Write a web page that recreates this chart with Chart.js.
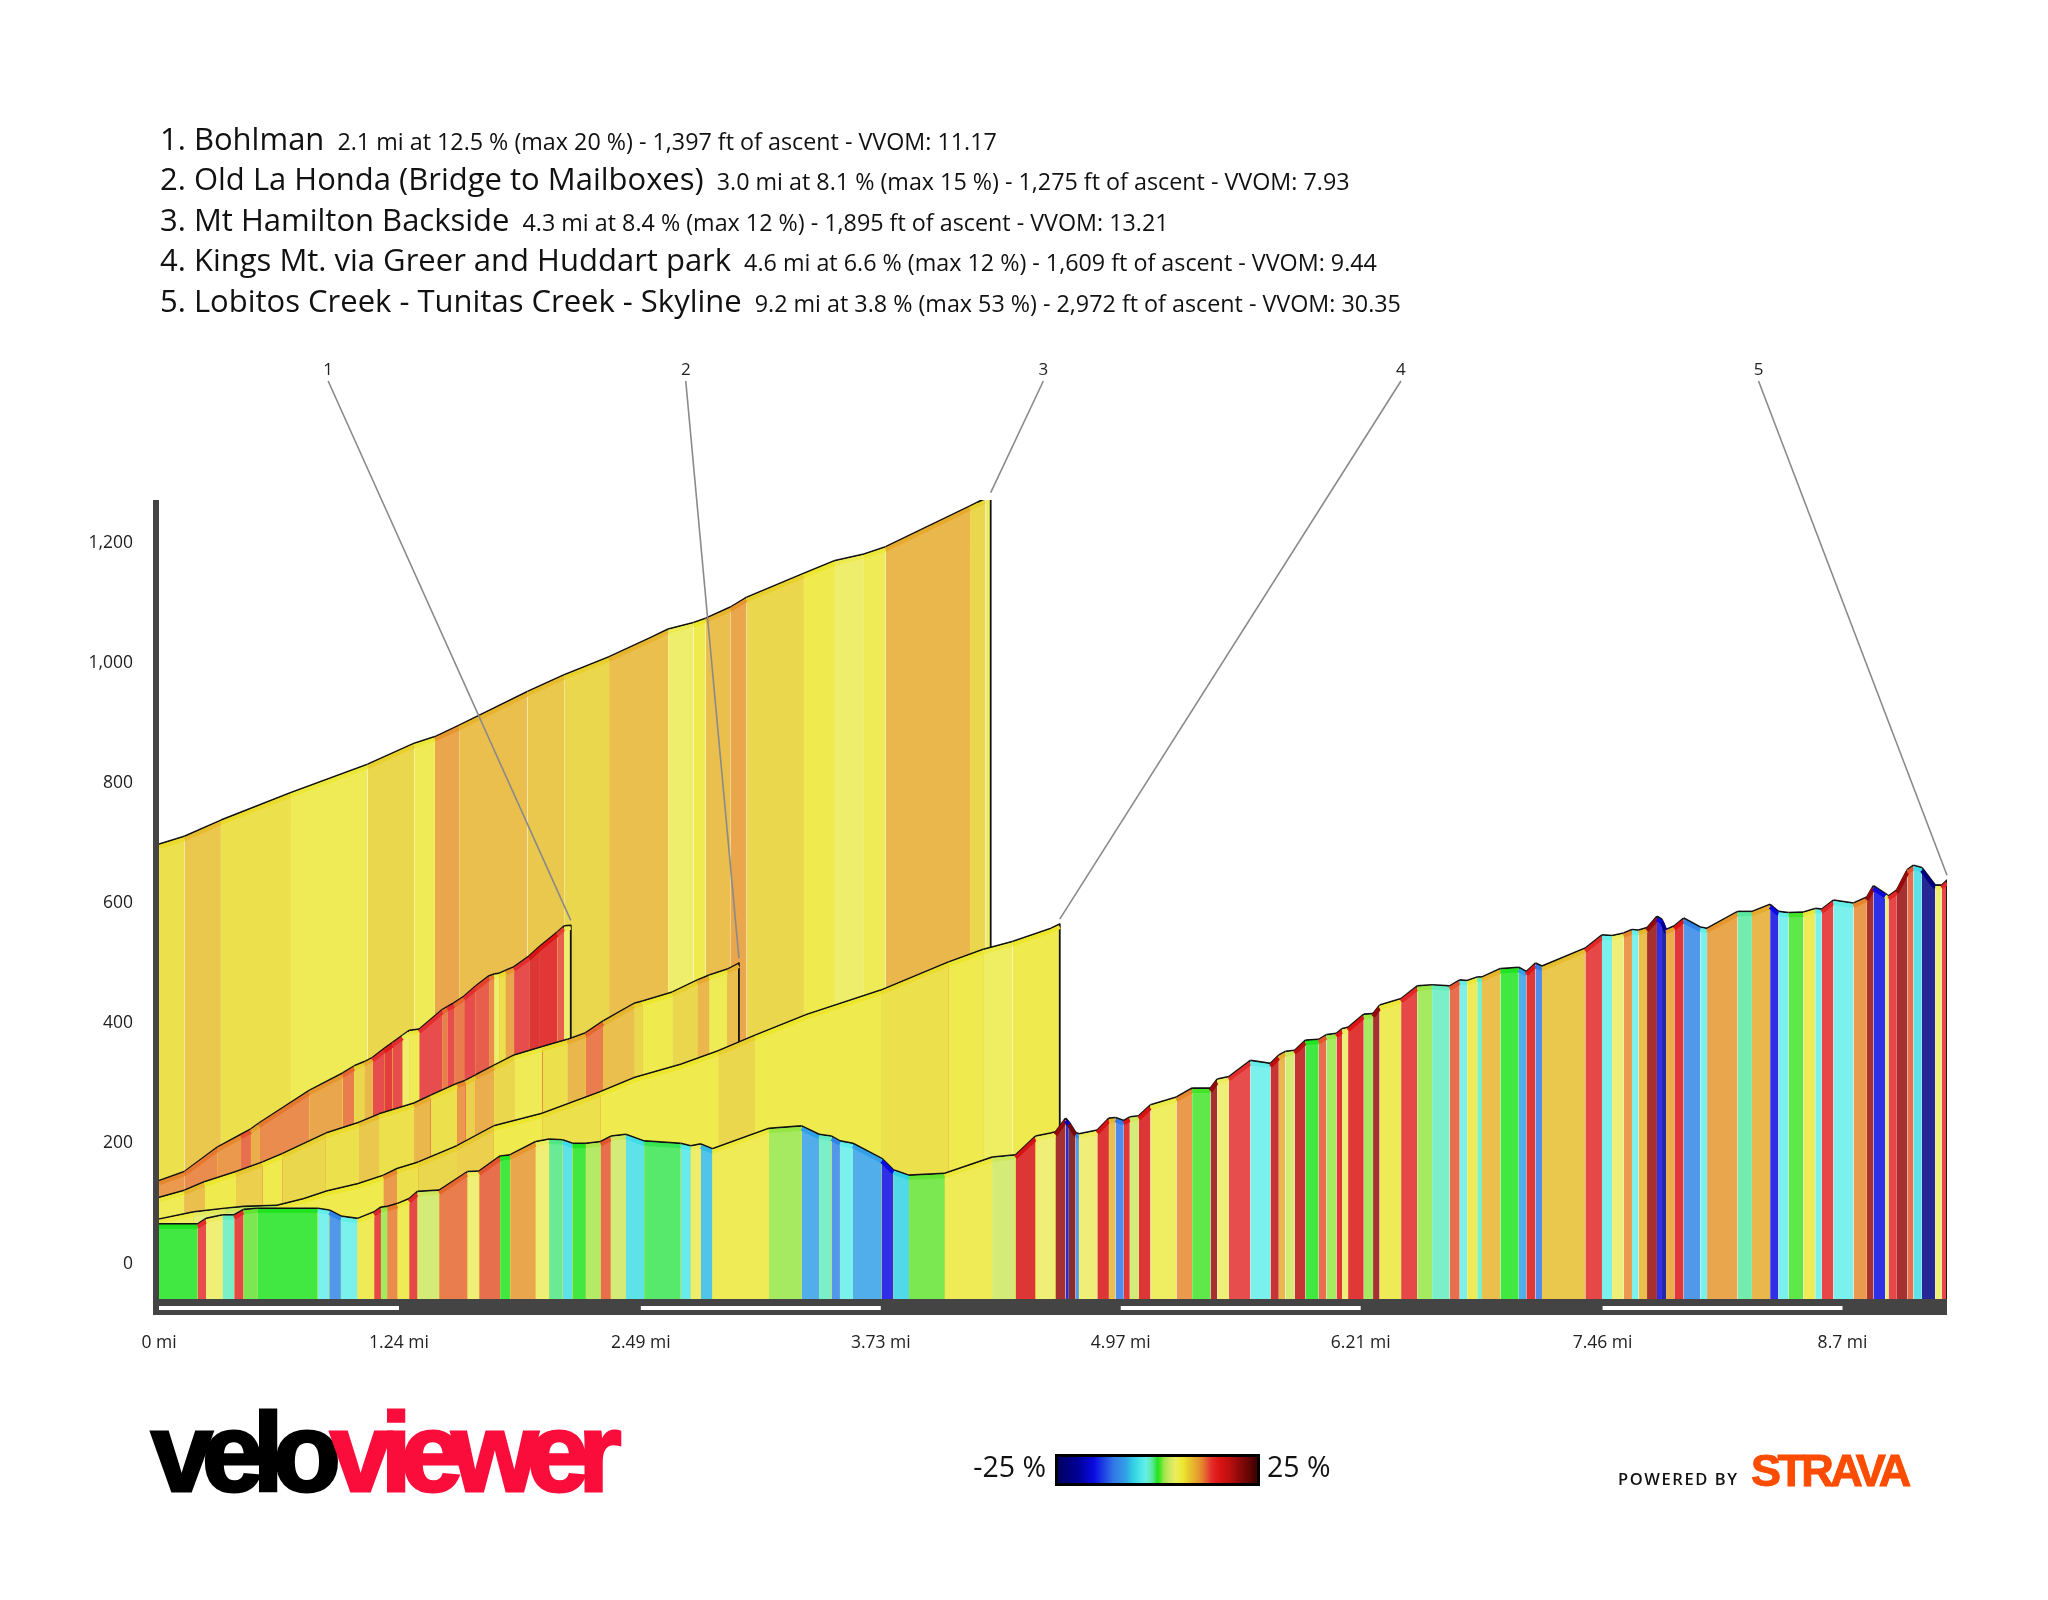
<!DOCTYPE html>
<html>
<head>
<meta charset="utf-8">
<title>Climb profiles</title>
<script src="https://cdn.jsdelivr.net/npm/chart.js@4.4.1/dist/chart.umd.min.js"></script>
<style>
  html, body { margin: 0; padding: 0; background: #fff; }
  #page { position: relative; width: 2048px; height: 1600px; overflow: hidden; font-family: "Open Sans", sans-serif; color: #111; }
  #profile { position: absolute; left: 0; top: 0; }
  .climb { position: absolute; left: 160px; font-size: 31px; line-height: 31px; white-space: nowrap; }
  .climb .info { font-size: 23.3px; margin-left: 13px; }
  .legend-label { position: absolute; top: 1452px; font-size: 28.5px; line-height: 28.5px; white-space: nowrap; color: #111; }
  #scaleBar { position: absolute; left: 1055px; top: 1454px; width: 205px; height: 32px; box-sizing: border-box; border: 3px solid #000; }
  #logo { position: absolute; left: 151px; top: 1398px; font-family: "Liberation Sans", Arial, sans-serif; font-weight: 700; font-size: 111px; line-height: 111px; letter-spacing: -10.8px; white-space: nowrap; }
  #logo span { -webkit-text-stroke-width: 3px; }
  #logo .velo { color: #000; }
  #logo .viewer { color: #fa0d3b; }
  #powered { position: absolute; left: 1618px; top: 1471px; font-size: 16.5px; line-height: 16.5px; font-weight: 600; letter-spacing: 1.6px; color: #111; white-space: nowrap; }
  #strava { position: absolute; left: 1751px; top: 1448px; font-family: "Liberation Sans", Arial, sans-serif; font-size: 45px; line-height: 45px; font-weight: 700; letter-spacing: -3.6px; color: #fc4c02; -webkit-text-stroke-width: 1px; white-space: nowrap; }
</style>
</head>
<body>
<div id="page">
  <canvas id="profile" width="2048" height="1600"></canvas>
  <div class="legend-label" style="right: 1002px;">-25 %</div>
  <div id="scaleBar"></div>
  <div class="legend-label" style="left: 1267px;">25 %</div>
  <div id="logo"><span class="velo">velo</span><span class="viewer">viewer</span></div>
  <div id="powered">POWERED BY</div>
  <div id="strava">STRAVA</div>
</div>
<script>
// climb titles
const climbNames = [
  "1. Bohlman",
  "2. Old La Honda (Bridge to Mailboxes)",
  "3. Mt Hamilton Backside",
  "4. Kings Mt. via Greer and Huddart park",
  "5. Lobitos Creek - Tunitas Creek - Skyline"
];
const climbInfo = [
  "2.1 mi at 12.5 % (max 20 %) - 1,397 ft of ascent - VVOM: 11.17",
  "3.0 mi at 8.1 % (max 15 %) - 1,275 ft of ascent - VVOM: 7.93",
  "4.3 mi at 8.4 % (max 12 %) - 1,895 ft of ascent - VVOM: 13.21",
  "4.6 mi at 6.6 % (max 12 %) - 1,609 ft of ascent - VVOM: 9.44",
  "9.2 mi at 3.8 % (max 53 %) - 2,972 ft of ascent - VVOM: 30.35"
];

// axis ticks (x in miles, every 2 km)
const xTicks = [0, 1.24, 2.49, 3.73, 4.97, 6.21, 7.46, 8.7];
const yTicks = [0, 200, 400, 600, 800, 1000, 1200];

// 1. Bohlman: distance (mi), elevation, gradient (%) per stripe
const bohlmanDist = [0, 0.131, 0.303, 0.424, 0.475, 0.518, 0.776, 0.949, 1.009, 1.061, 1.104, 1.164, 1.207, 1.259, 1.293, 1.345, 1.465, 1.491, 1.525, 1.577, 1.637, 1.706, 1.732, 1.758, 1.792, 1.835, 1.913, 1.964, 2.059, 2.094, 2.128];
const bohlmanElev = [138, 153, 194, 215, 224, 234, 288, 317, 329, 336, 343, 358, 368, 380, 388, 390, 423, 428, 434, 445, 462, 479, 482, 483, 488, 494, 512, 527, 552, 562, 563];
const bohlmanGrade = [11, 11.5, 11, 12.5, 10, 11.5, 10.5, 12, 7.5, 9.5, 13.5, 15, 13.5, 5, 6, 13.5, 12, 13.5, 12, 13.5, 13, 11.5, 5, 7, 10.5, 13.5, 16, 15.5, 13, 5];

// 2. Old La Honda
const olhDist = [0, 0.131, 0.234, 0.398, 0.535, 0.639, 0.862, 1.034, 1.137, 1.318, 1.404, 1.542, 1.585, 1.637, 1.732, 1.835, 1.981, 2.110, 2.205, 2.297, 2.455, 2.498, 2.653, 2.782, 2.843, 2.937, 2.997];
const olhElev = [110, 122, 136, 153, 169, 183, 217, 235, 249, 267, 280, 300, 305, 314, 330, 347, 361, 373, 384, 404, 433, 437, 452, 472, 480, 490, 500];
const olhGrade = [6, 9, 6.5, 8, 6.5, 7.5, 7, 8.5, 7, 9.5, 7, 11, 8, 10, 7.5, 6, 7, 9.5, 12, 9, 7.5, 6.5, 7.5, 9.5, 6, 9];

// 3. Mt Hamilton Backside
const hamiltonDist = [0, 0.131, 0.320, 0.682, 1.078, 1.319, 1.426, 1.551, 1.904, 2.094, 2.326, 2.541, 2.631, 2.762, 2.825, 2.955, 3.037, 3.333, 3.493, 3.643, 3.755, 4.191, 4.272, 4.298];
const hamiltonElev = [698, 711, 738, 784, 831, 866, 877, 896, 952, 980, 1010, 1042, 1056, 1067, 1074, 1093, 1109, 1149, 1170, 1181, 1193, 1261, 1274, 1275];
const hamiltonGrade = [7, 8.5, 7, 6, 7.5, 6, 10.5, 9, 8.5, 7.5, 9, 9, 5, 6.5, 9, 10.5, 7.5, 6.5, 5, 6, 9.5, 7.5, 5];

// 4. Kings Mt.
const kingsDist = [0, 0.18, 0.34, 0.44, 0.61, 0.75, 0.87, 1.03, 1.16, 1.23, 1.34, 1.54, 1.73, 1.98, 2.28, 2.46, 2.70, 2.89, 3.08, 3.35, 3.73, 4.08, 4.26, 4.41, 4.61, 4.655];
const kingsElev = [74, 86, 92, 95, 97, 108, 121, 133, 147, 158, 169, 196, 229, 250, 286, 310, 332, 354, 380, 415, 455, 502, 523, 536, 558, 565];
const kingsGrade = [5.5, 4, 3, 2, 6, 6.5, 6.5, 6.5, 11, 7, 7.5, 8, 6.5, 7, 6.5, 6.5, 6.5, 7.5, 6.5, 6.5, 7, 6.5, 5.5, 6.5, 6.5];

// 5. Lobitos Creek - Tunitas Creek - Skyline
const lobitosDist = [
  0, 0.200, 0.243, 0.329, 0.389, 0.437, 0.510, 0.820, 0.880, 0.940,
  1.026, 1.112, 1.147, 1.181, 1.233, 1.293, 1.336, 1.448, 1.594, 1.655,
  1.763, 1.815, 1.947, 2.016, 2.085, 2.137, 2.206, 2.283,
  2.335, 2.412, 2.507, 2.696, 2.748, 2.800, 2.860, 3.152, 3.321, 3.411,
  3.476, 3.519, 3.586, 3.735, 3.795, 3.876, 4.061, 4.306, 4.427, 4.530, 4.607,
  4.633, 4.685, 4.702, 4.737, 4.754, 4.849, 4.909, 4.943, 4.986, 5.017,
  5.064, 5.124, 5.258, 5.339, 5.434, 5.469, 5.529, 5.640, 5.744, 5.787,
  5.821, 5.869, 5.925, 5.993, 6.033, 6.085, 6.114, 6.145, 6.226, 6.274,
  6.308, 6.419, 6.502, 6.579, 6.670, 6.722, 6.760, 6.812, 6.837, 6.932,
  7.027, 7.066, 7.113, 7.147, 7.371, 7.457, 7.509, 7.569, 7.612, 7.646,
  7.690, 7.741, 7.767, 7.788, 7.831, 7.879, 7.965, 8.000, 8.158, 8.232,
  8.326, 8.369, 8.421, 8.498, 8.559, 8.593, 8.653, 8.757, 8.826, 8.860,
  8.921, 8.938, 8.981, 9.036, 9.067, 9.110, 9.179, 9.213, 9.240
];
const lobitosElev = [
  66, 66, 75, 81, 81, 90, 92, 92, 89, 79,
  75, 86, 94, 95, 100, 108, 120, 122, 153, 154,
  179, 181, 203, 207, 206, 200, 200, 203,
  212, 215, 204, 200, 196, 199, 191, 225, 229, 215,
  212, 204, 200, 175, 156, 147, 150, 177, 181, 212, 217,
  219, 242, 236, 218, 216, 222, 242, 243, 238, 244,
  246, 264, 277, 292, 292, 307, 311, 338, 333, 347,
  353, 355, 372, 373, 381, 383, 391, 393, 415, 416,
  430, 441, 462, 464, 462, 472, 471, 477, 477, 491,
  493, 486, 500, 495, 525, 547, 546, 550, 556, 555,
  559, 578, 573, 556, 562, 575, 560, 558, 586, 586,
  598, 586, 584, 585, 591, 590, 605, 600, 610, 629,
  616, 612, 622, 656, 663, 659, 630, 630, 638
];
const lobitosGrade = [
  0, 13.5, 4.5, -2, 14, 1, 0, -3, -10, -3, 6, 14, 1.5, 11.5, 6, 14, 3, 12, 4.5, 12.5, 0, 10.5, 4.5, -1, -5, 0, 2,
  12.5, 3, -5, -0.5, -4, 5, -7, 6, 1.5, -8, -2, -10, -3, -8, -16, -6, 1, 6, 3, 16, 4.5,
  4.5, 20, -18, 22, -10, 4.5, 16, 9, -11, 15.5, 3, 16, 5.5, 11, 0.5, 20, 4.5, 13.5, -3, 18, 9.5, 3, 18, 0, 12.5, 1.5, 15.5, 4.5, 15.5, 1.5, 20, 6, 14, 1.5, -2, 12.5, -3, 6, -2, 9,
  0, -8, 15.5, -11, 8.5, 14, -3, 4.5, 11, -3, 9, 20, -16, -20, 10, 15.5, -10, -3, 10.5, -1.5, 9.5, -16, -3, 0.5, 6, -3, 14, -3, 11, 20, -16, 4.5, 14, 20, 12.5, -5, -22, 4.5, 14
];

// gradient colour scale (-25 % .. 25 %)
const gradeStops = [
  [-25, 0, 0, 100], [-20, 0, 0, 150], [-16, 10, 10, 225], [-11, 50, 120, 232],
  [-8, 50, 160, 230], [-6, 50, 210, 228], [-4, 80, 232, 232], [-3, 100, 238, 234],
  [-2, 100, 236, 190], [-1, 80, 230, 130], [0, 32, 228, 32], [1, 100, 228, 50],
  [1.5, 150, 230, 70], [3, 205, 232, 95], [4.5, 236, 236, 95], [5.5, 236, 234, 70],
  [6.5, 236, 230, 45], [7.5, 232, 208, 45], [9, 230, 180, 45], [10.5, 230, 150, 45],
  [11.5, 230, 120, 45], [12.5, 228, 85, 45], [13.5, 228, 45, 45], [15.5, 220, 20, 20],
  [18, 190, 15, 15], [20, 150, 10, 10], [23, 100, 5, 5], [25, 60, 0, 0]
];

function gradeRGB(g) {
  if (g <= gradeStops[0][0]) return gradeStops[0].slice(1);
  for (let i = 1; i < gradeStops.length; i++) {
    const a = gradeStops[i - 1], b = gradeStops[i];
    if (g <= b[0]) {
      const t = (g - a[0]) / (b[0] - a[0]);
      return [1, 2, 3].map(k => a[k] + (b[k] - a[k]) * t);
    }
  }
  return gradeStops[gradeStops.length - 1].slice(1);
}
const rgb = c => `rgb(${c.map(v => Math.round(v)).join(",")})`;
const bandColor = g => rgb(gradeRGB(g));
const fillColor = g => rgb(gradeRGB(g).map(v => v * 0.85 + 255 * 0.15));

// header lines
climbNames.forEach((name, i) => {
  const div = document.createElement("div");
  div.className = "climb";
  div.style.top = (122.5 + i * 40.5) + "px";
  div.innerHTML = `<span class="name">${name}</span><span class="info">${climbInfo[i]}</span>`;
  document.getElementById("page").appendChild(div);
});

// legend bar from the same colour scale
document.getElementById("scaleBar").style.background =
  "linear-gradient(to right, " +
  gradeStops.map(s => `${rgb(s.slice(1))} ${((s[0] + 25) * 2).toFixed(1)}%`).join(", ") + ")";

const Y_MIN = -59, Y_MAX = 1271, X_MAX = 9.24;

// depth: 0 = furthest back
const climbs = [
  { dist: bohlmanDist, elev: bohlmanElev, grade: bohlmanGrade, depth: 1 },
  { dist: olhDist, elev: olhElev, grade: olhGrade, depth: 2 },
  { dist: hamiltonDist, elev: hamiltonElev, grade: hamiltonGrade, depth: 0 },
  { dist: kingsDist, elev: kingsElev, grade: kingsGrade, depth: 3 },
  { dist: lobitosDist, elev: lobitosElev, grade: lobitosGrade, depth: 4 }
];

const datasets = [];
climbs.forEach((c, ci) => {
  const pts = c.dist.map((d, i) => ({ x: d, y: c.elev[i] }));
  const last = c.grade.length - 1;
  datasets.push({
    label: climbNames[ci],
    data: pts.concat([{ x: c.dist[c.dist.length - 1], y: Y_MIN }]),
    order: 20 - 2 * c.depth,
    fill: "start",
    backgroundColor: fillColor(c.grade[0]),
    borderColor: "#111",
    borderWidth: 1.8,
    borderJoinStyle: "round",
    pointRadius: 0,
    tension: 0,
    segment: {
      backgroundColor: ctx => fillColor(c.grade[Math.min(ctx.p0DataIndex, last)])
    }
  });
  datasets.push({
    label: climbNames[ci] + " edge",
    band: true,
    data: pts,
    order: 19 - 2 * c.depth,
    fill: false,
    borderWidth: 4,
    borderColor: bandColor(c.grade[0]),
    pointRadius: 0,
    tension: 0,
    segment: {
      borderColor: ctx => bandColor(c.grade[Math.min(ctx.p0DataIndex, last)])
    }
  });
});

// draws the coloured edge just under the black outline
const shiftBand = {
  id: "shiftBand",
  beforeDatasetDraw(chart, args) {
    if (chart.data.datasets[args.index].band) {
      chart.ctx.save();
      chart.ctx.translate(0, 2.8);
    }
  },
  afterDatasetDraw(chart, args) {
    if (chart.data.datasets[args.index].band) chart.ctx.restore();
  }
};

const decor = {
  id: "decor",
  afterDatasetsDraw(chart) {
    const { ctx, chartArea: a, scales: { x, y } } = chart;
    ctx.save();
    ctx.fillStyle = "#444";
    ctx.fillRect(a.left - 6, a.top, 6, a.bottom - a.top);
    ctx.fillRect(a.left - 6, a.bottom, a.right - a.left + 6, 16);
    ctx.fillStyle = "#fff";
    for (let i = 0; i + 1 < xTicks.length; i += 2) {
      const x1 = x.getPixelForValue(xTicks[i]);
      const x2 = x.getPixelForValue(xTicks[i + 1]);
      ctx.fillRect(x1, a.bottom + 7, x2 - x1, 4);
    }
    // numbered leader lines to each summit
    ctx.strokeStyle = "#8a8a8a";
    ctx.lineWidth = 1.6;
    ctx.font = '17px "Open Sans"';
    ctx.textAlign = "center";
    ctx.textBaseline = "middle";
    climbs.forEach((c, i) => {
      const lx = a.left + (a.right - a.left) * (i + 0.473) / 5;
      const ex = x.getPixelForValue(c.dist[c.dist.length - 1]);
      const ey = y.getPixelForValue(c.elev[c.elev.length - 1]) - 5;
      ctx.beginPath();
      ctx.moveTo(lx, 381);
      ctx.lineTo(ex, ey);
      ctx.stroke();
      ctx.fillStyle = "#222";
      ctx.fillText(String(i + 1), lx, 370);
    });
    ctx.restore();
  }
};

new Chart(document.getElementById("profile"), {
  type: "line",
  data: { datasets },
  options: {
    responsive: false,
    animation: false,
    events: [],
    layout: { padding: { left: 59, right: 101, top: 500, bottom: 231 } },
    plugins: {
      legend: { display: false },
      tooltip: { enabled: false }
    },
    scales: {
      x: {
        type: "linear",
        min: 0,
        max: X_MAX,
        grid: { display: false, drawTicks: false },
        border: { display: false },
        afterFit: s => { s.height = 70; },
        afterBuildTicks: s => { s.ticks = xTicks.map(v => ({ value: v })); },
        ticks: {
          autoSkip: false,
          maxRotation: 0,
          padding: 34,
          color: "#222",
          font: { family: "Open Sans", size: 17.5 },
          callback: v => v + " mi"
        }
      },
      y: {
        min: Y_MIN,
        max: Y_MAX,
        grid: { display: false, drawTicks: false },
        border: { display: false },
        afterFit: s => { s.width = 100; },
        afterBuildTicks: s => { s.ticks = yTicks.map(v => ({ value: v })); },
        ticks: {
          padding: 26,
          color: "#222",
          font: { family: "Open Sans", size: 17.5 },
          callback: v => v.toLocaleString("en-US")
        }
      }
    }
  },
  plugins: [shiftBand, decor]
});
</script>
</body>
</html>
